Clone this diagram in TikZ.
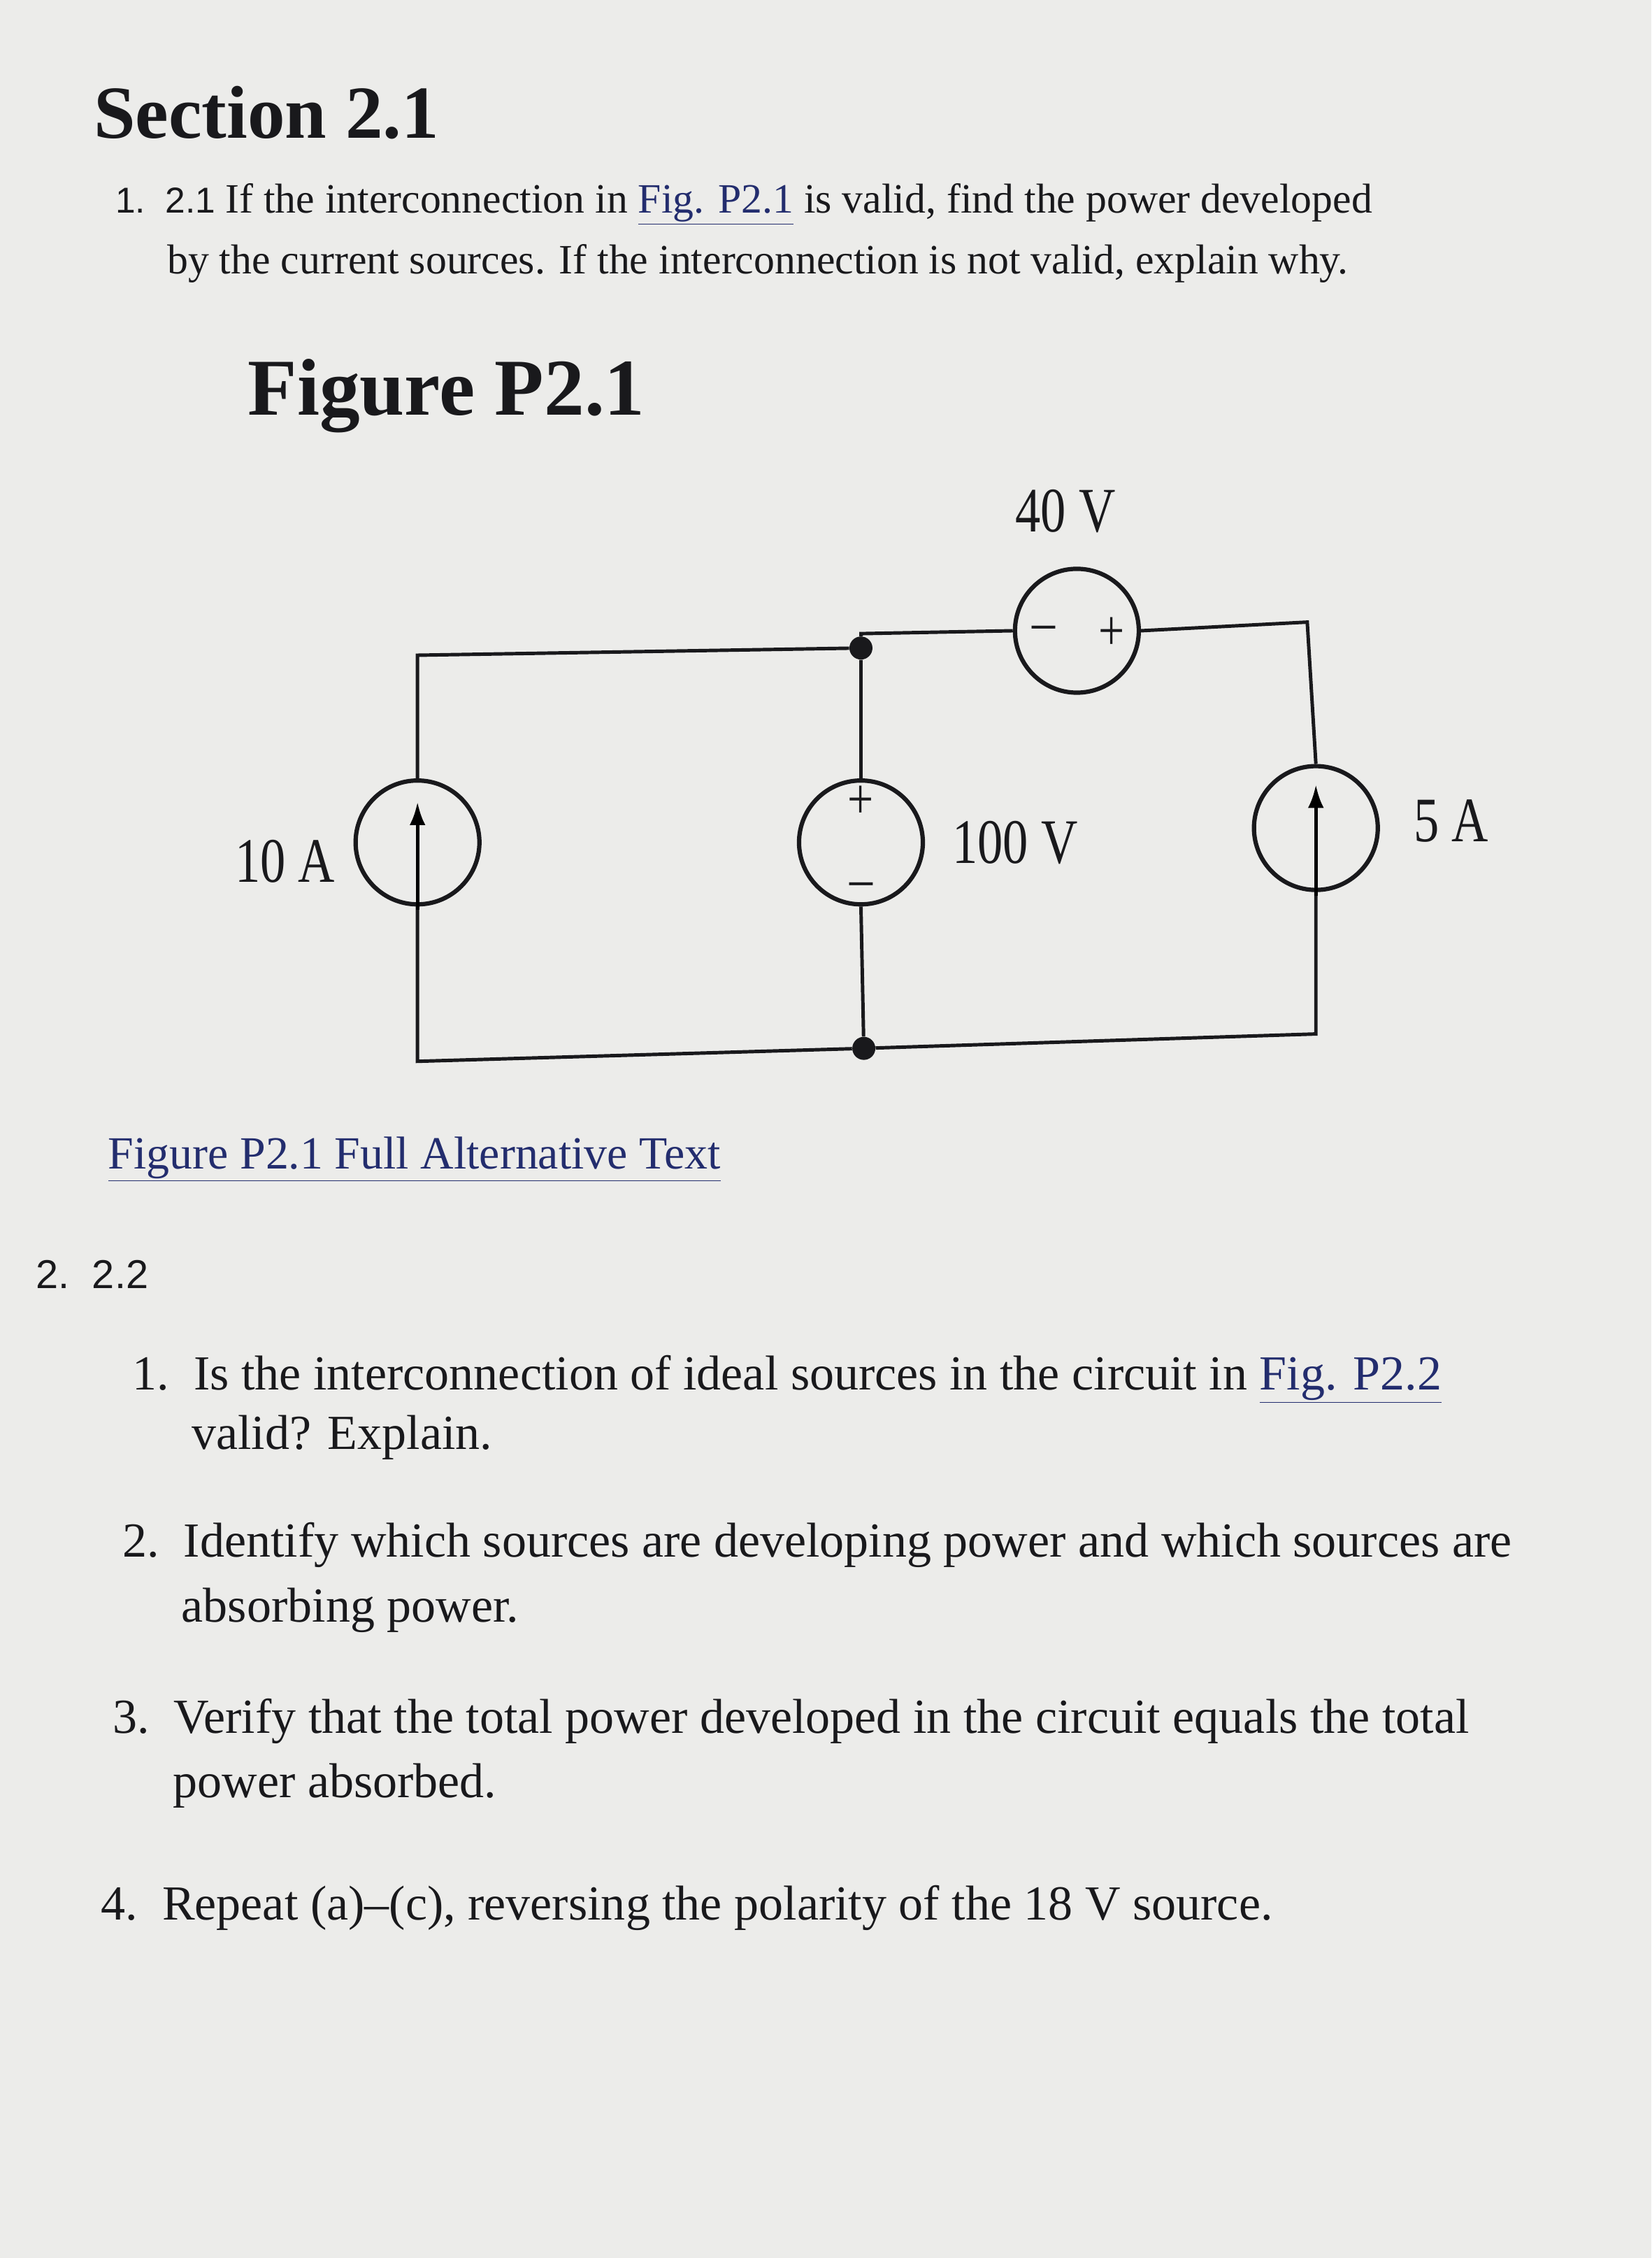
\documentclass[tikz,border=0pt]{standalone}
\usepackage{fontspec}
\usetikzlibrary{arrows.meta}
\setmainfont{Liberation Serif}
\setsansfont{Liberation Sans}
\definecolor{paper}{RGB}{236,236,234}
\definecolor{ink}{RGB}{25,25,28}
\definecolor{linkc}{RGB}{35,45,110}
\begin{document}
\begin{tikzpicture}[x=1pt,y=-1pt,
  wire/.style={line width=2.4pt,draw=ink},
  src/.style={circle,draw=ink,line width=3pt,minimum size=86pt,inner sep=0pt},
  dotn/.style={circle,fill=ink,minimum size=16pt,inner sep=0pt},
  txt/.style={anchor=west,inner sep=0pt,text=ink},
  lab/.style={font=\fontsize{44}{48}\selectfont,text=ink,inner sep=0pt,xscale=0.8}]
\fill[paper] (0,0) rectangle (1147,1568);
\useasboundingbox (0,0) rectangle (1147,1568);
\node[txt,font=\bfseries\fontsize{52}{56}\selectfont] (sec) at (65,78) {Section 2.1};
\node[txt,font=\fontsize{29}{30}\selectfont,anchor=base west] (q1a) at (80,148) {\sffamily\fontsize{25}{28}\selectfont 1.\ \ 2.1 \rmfamily\fontsize{29}{30}\selectfont If the interconnection in \textcolor{linkc}{\underline{Fig. P2.1}} is valid, find the power developed};
\node[txt,font=\fontsize{29}{30}\selectfont,anchor=base west] (q1b) at (116,190) {by the current sources. If the interconnection is not valid, explain why.};
\node[txt,font=\bfseries\fontsize{56}{60}\selectfont] (fig) at (172,275) {Figure P2.1};
% circuit
\node[src] (s10) at (290,585) {};
\node[src] (s100) at (598,585) {};
\node[src] (s40) at (748,438) {};
\node[src] (s5) at (914,575) {};
\node[dotn] (dt) at (598,450) {};
\node[dotn] (db) at (600,728) {};
\coordinate (tl) at (290,455);
\coordinate (bl) at (290,737);
\coordinate (tr) at (908,432);
\coordinate (br) at (914,718);
\draw[wire] (s10.north) -- (tl) -- (dt) -- (s100.north);
\draw[wire] (dt) -- (598,440) -- (s40.west);
\draw[wire] (s40.east) -- (tr) -- (s5.north);
\draw[wire] (s10.south) -- (bl) -- (db) -- (br) -- (s5.south);
\draw[wire] (s100.south) -- (db);
\draw[line width=2.4pt,-{Latex[length=16pt,width=11pt]}] (290,632) -- (290,557);
\draw[line width=2.4pt,-{Latex[length=16pt,width=11pt]}] (914,622) -- (914,545);
\node[lab,font=\fontsize{40}{44}\selectfont] (p100) at (598,557) {+};
\node[lab,font=\fontsize{40}{44}\selectfont] (m100) at (598,618) {--};
\node[lab,font=\fontsize{40}{44}\selectfont] (m40) at (725,440) {--};
\node[lab,font=\fontsize{40}{44}\selectfont] (p40) at (772,440) {+};
\node[lab] (l40) at (740,355) {40 V};
\node[lab] (l100) at (705,585) {100 V};
\node[lab] (l10) at (198,598) {10 A};
\node[lab] (l5) at (1008,570) {5 A};
\node[txt,font=\fontsize{32}{36}\selectfont,text=linkc] (alt) at (75,805) {\underline{Figure P2.1 Full Alternative Text}};
\node[txt,font=\sffamily\fontsize{28}{30}\selectfont] (q2) at (25,885) {2.\ \ 2.2};
\begin{scope}[every node/.style={txt,font=\fontsize{34}{38}\selectfont}]
\node (a1) at (92,958) {1.\ \ Is the interconnection of ideal sources in the circuit in \textcolor{linkc}{\underline{Fig. P2.2}}};
\node (a2) at (133,998) {valid? Explain.};
\node (b1) at (85,1073) {2.\ \ Identify which sources are developing power and which sources are};
\node (b2) at (126,1118) {absorbing power.};
\node (c1) at (78,1195) {3.\ \ Verify that the total power developed in the circuit equals the total};
\node (c2) at (120,1240) {power absorbed.};
\node (d1) at (70,1325) {4.\ \ Repeat (a)–(c), reversing the polarity of the 18 V source.};
\end{scope}
\end{tikzpicture}
\end{document}
